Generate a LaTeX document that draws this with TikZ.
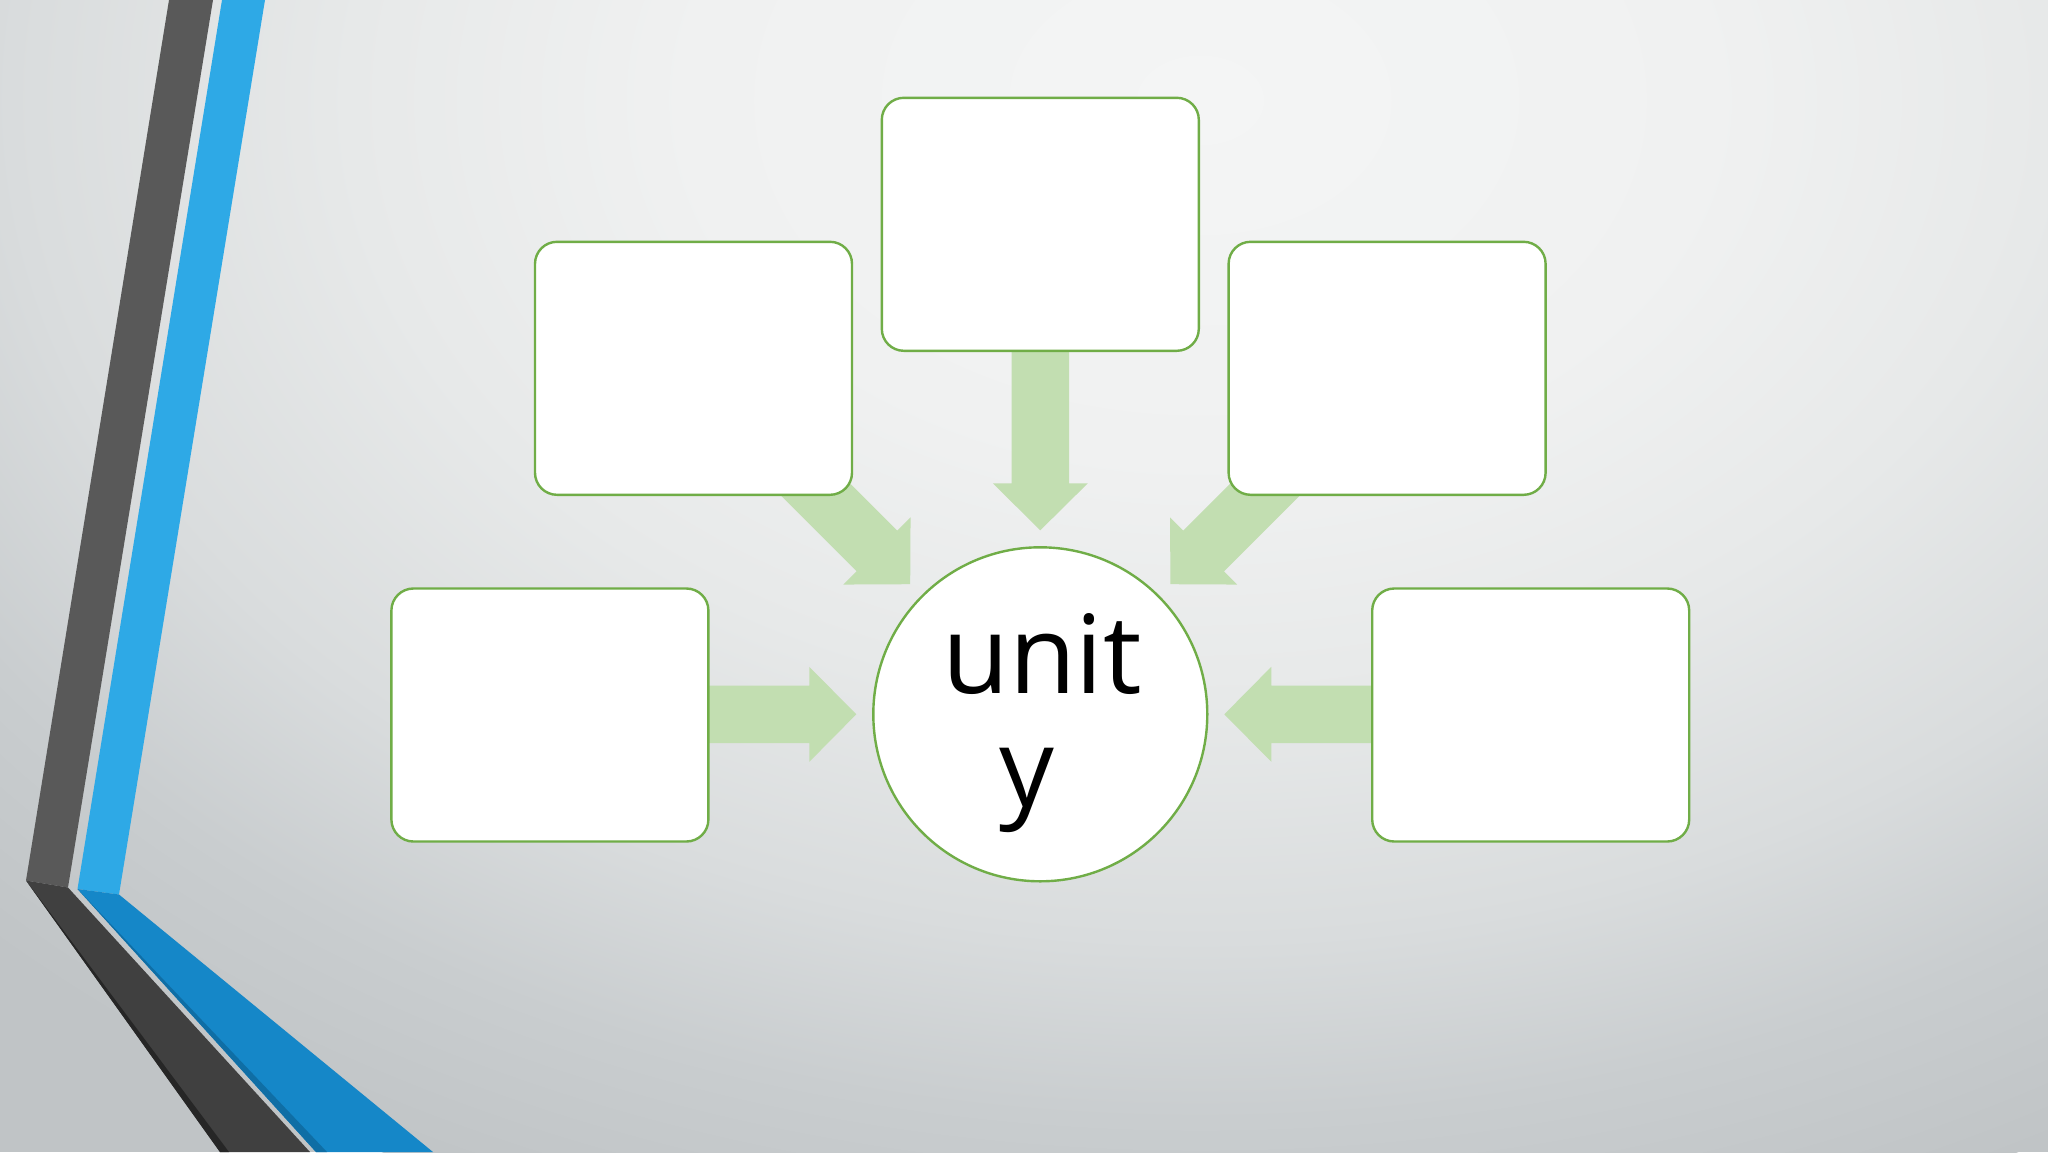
\documentclass[tikz,border=0pt]{standalone}
\usepackage{fontspec}
\setmainfont{Open Sans}
\definecolor{bg0}{RGB}{244,245,245}
\definecolor{bg1}{RGB}{240,241,241}
\definecolor{bg2}{RGB}{231,233,233}
\definecolor{bg3}{RGB}{217,220,221}
\definecolor{bg4}{RGB}{201,205,207}
\definecolor{bg5}{RGB}{192,196,198}
\definecolor{boxgreen}{HTML}{70AD47}
\definecolor{arrowgreen}{HTML}{C2DEB1}
\definecolor{darkA}{HTML}{595959}
\definecolor{darkB}{HTML}{404040}
\definecolor{darkC}{HTML}{262626}
\definecolor{blueA}{HTML}{2EA9E6}
\definecolor{blueB}{HTML}{1587C8}
\definecolor{blueC}{HTML}{0F6EA5}
\pgfdeclareradialshading{bgshade}{\pgfpointorigin}{color(0bp)=(bg0); color(7.5bp)=(bg1); color(12.5bp)=(bg2); color(17.5bp)=(bg3); color(21.25bp)=(bg4); color(25bp)=(bg5); color(50bp)=(bg5)}
\begin{document}
\begin{tikzpicture}[x=1pt,y=-1pt,
  box/.style={draw=boxgreen, line width=2.4pt, fill=white, rounded corners=22pt,
    minimum width=317pt, minimum height=253pt, inner sep=0pt},
  hubstyle/.style={circle, draw=boxgreen, line width=2.4pt, fill=white,
    minimum size=334pt, inner sep=0pt},
  word/.style={font=\fontsize{109pt}{113pt}\selectfont, text=black, inner sep=0pt, anchor=base},
  blockarrow/.style={fill=arrowgreen}]
\useasboundingbox (0,0) rectangle (2048,1152);
% background
\fill[bg5] (0,0) rectangle (2048,1152);
\begin{scope}
  \clip (0,0) rectangle (2048,1152);
  \shade[shading=bgshade] (1200,100) ellipse [x radius=1700, y radius=1200];
  % left stripes
  \fill[darkA] (169,0) -- (213,0) -- (68,887.5) -- (26,880.5) -- cycle;
  \fill[blueA] (222,0) -- (265,0) -- (119,894.5) -- (77.5,889) -- cycle;
  \fill[darkB] (26,880.5) -- (68,887.5) -- (310,1152) -- (220,1152) -- cycle;
  \fill[darkC] (26,880.5) -- (220,1152) -- (229,1152) -- cycle;
  \fill[blueB] (77.5,889) -- (119,894.5) -- (433,1152) -- (316,1152) -- cycle;
  \fill[blueC] (77.5,889) -- (316,1152) -- (327,1152) -- cycle;
\end{scope}
% hub position
\coordinate (ctr) at (1040.3,714.3);
% block arrows (drawn under the boxes)
\foreach \ang in {0,-45,-90,-135,180}{
  \begin{scope}[shift={(ctr)}, rotate=\ang]
    \fill[blockarrow] (-370,-28.8) -- (-231,-28.8) -- (-231,-47.5) -- (-184,0)
      -- (-231,47.5) -- (-231,28.8) -- (-370,28.8) -- cycle;
  \end{scope}
}
% boxes
\node[box] (btop) at (1040.3,224.3) {};
\node[box] (bul) at (693.5,368.3) {};
\node[box] (bur) at (1387.1,368.3) {};
\node[box] (bll) at (549.9,715) {};
\node[box] (blr) at (1530.7,715) {};
% hub
\node[hubstyle] (hub) at (ctr) {};
\node[word] (w1) at (1042,693.3) {unit};
\node[word] (w2) at (1027,806.7) {y};
\end{tikzpicture}
\end{document}
